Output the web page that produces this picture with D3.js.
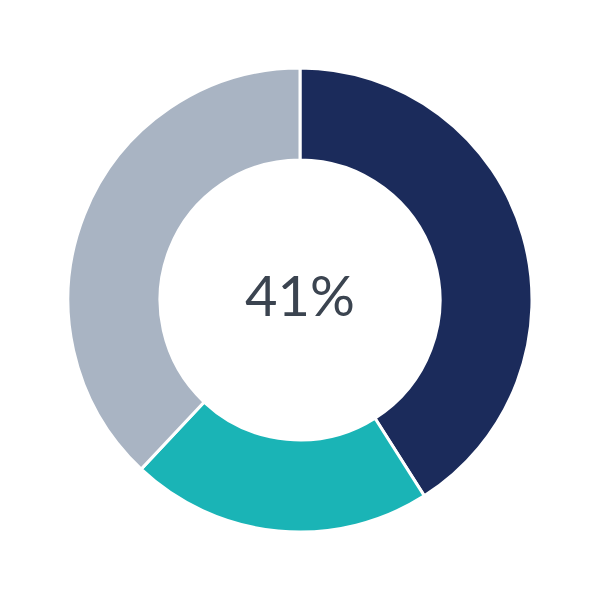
<!DOCTYPE html>
<html><head><meta charset="utf-8">
<script src="https://cdn.jsdelivr.net/npm/d3@7"></script>
<style>html,body{margin:0;padding:0;background:#fff;}</style>
</head><body>
<svg id="chart" width="600" height="600"></svg>
<script>
const categories = ["A", "B", "C"];
const values = [41, 21, 38];
const colors = ["#1b2b5b", "#1ab4b6", "#a9b4c3"];
const centerLabel = "41%";

const svg = d3.select("#chart");
const g = svg.append("g").attr("transform", "translate(300,300)");
const pie = d3.pie().sort(null).value(d => d.v);
const arc = d3.arc().innerRadius(140).outerRadius(232);
const data = categories.map((c, i) => ({c, v: values[i]}));
g.selectAll("path").data(pie(data)).join("path")
  .attr("d", arc)
  .attr("fill", (d, i) => colors[i])
  .attr("stroke", "#fff")
  .attr("stroke-width", 3);
g.append("text").text(centerLabel)
  .attr("text-anchor", "middle")
  .attr("y", -4)
  .attr("dy", "0.35em")
  .attr("font-family", "Lato")
  .attr("font-weight", 400)
  .attr("font-size", 56)
  .attr("fill", "#3b4450");
</script>
</body></html>
